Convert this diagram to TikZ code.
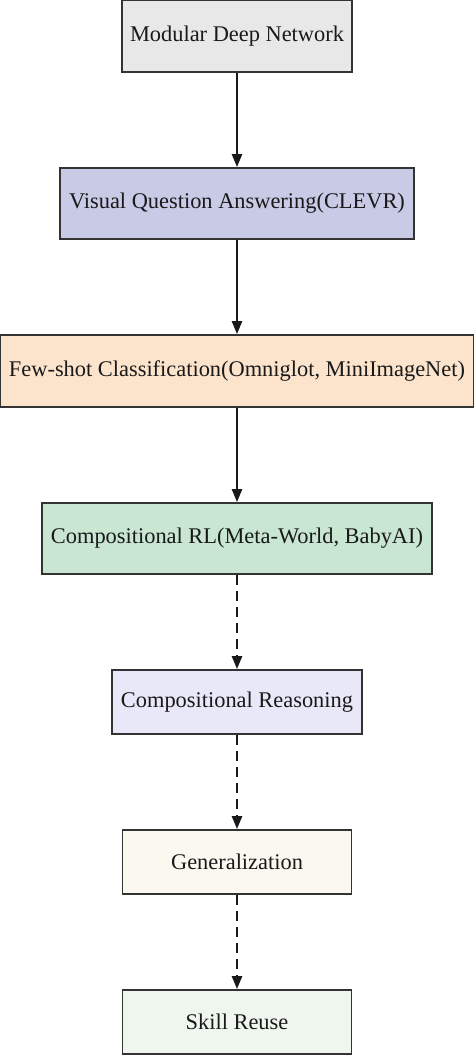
\documentclass[tikz,border=0pt]{standalone}
\usepackage{fontspec}
\setmainfont{Liberation Serif}
\usetikzlibrary{arrows.meta}
\definecolor{c1}{HTML}{E8E8E9}
\definecolor{c2}{HTML}{C8CAE6}
\definecolor{c3}{HTML}{FCE4CC}
\definecolor{c4}{HTML}{C8E6D2}
\definecolor{c5}{HTML}{E8E8F8}
\definecolor{c6}{HTML}{FBF8EF}
\definecolor{c7}{HTML}{EEF6EE}
\definecolor{edge}{HTML}{333333}
\begin{document}
\begin{tikzpicture}[x=1pt,y=-1pt,
  box/.style={draw=edge,line width=1.8pt,inner sep=0pt,text=black!90,
    font=\fontsize{22.4}{26}\selectfont},
  link/.style={draw=black!90,line width=2.4pt,-{Triangle[length=13pt,width=10pt]}},
  dlink/.style={link,dash pattern=on 10pt off 6pt}]
\useasboundingbox (0,0) rectangle (474,1055);
\node[box,fill=c1,minimum width=230pt,minimum height=72pt] (a) at (237,36) {Modular Deep Network};
\node[box,fill=c2,minimum width=354pt,minimum height=71pt] (b) at (237,203.5) {Visual Question Answering(CLEVR)};
\node[box,fill=c3,minimum width=473pt,minimum height=72pt] (c) at (237,371) {Few-shot Classification(Omniglot, MiniImageNet)};
\node[box,fill=c4,minimum width=390pt,minimum height=71pt] (d) at (237,538.5) {Compositional RL(Meta-World, BabyAI)};
\node[box,fill=c5,minimum width=250pt,minimum height=64pt] (e) at (237,702) {Compositional Reasoning};
\node[box,fill=c6,minimum width=229pt,minimum height=64pt] (f) at (237,862) {Generalization};
\node[box,fill=c7,minimum width=229pt,minimum height=64pt] (g) at (237,1022) {Skill Reuse};
\draw[link] (a) -- (b);
\draw[link] (b) -- (c);
\draw[link] (c) -- (d);
\draw[dlink] (d) -- (e);
\draw[dlink] (e) -- (f);
\draw[dlink] (f) -- (g);
\end{tikzpicture}
\end{document}
